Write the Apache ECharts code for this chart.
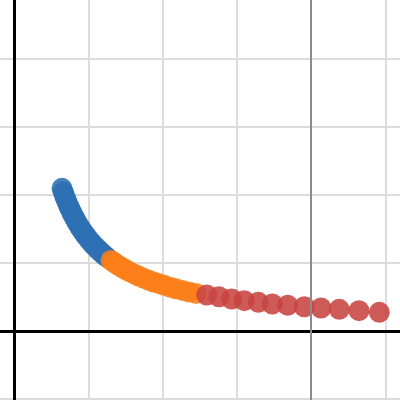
<!DOCTYPE html>
<html>
<head>
<meta charset="utf-8">
<script src="https://cdn.jsdelivr.net/npm/echarts@6/dist/echarts.min.js"></script>
<style>
  html, body { margin: 0; padding: 0; background: #fff; }
  #chart { width: 400px; height: 400px; }
</style>
</head>
<body>
<div id="chart"></div>
<script>
// point positions
var blueX = [0.646, 0.662, 0.680, 0.697, 0.716, 0.736, 0.756, 0.778, 0.801, 0.824, 0.848, 0.872, 0.898,
             0.924, 0.950, 0.977, 1.005, 1.034, 1.063, 1.093, 1.124, 1.155, 1.187, 1.219, 1.252];
var blueY = [2.098, 2.047, 1.993, 1.944, 1.892, 1.841, 1.792, 1.742, 1.692, 1.644, 1.598, 1.554, 1.509,
             1.466, 1.426, 1.387, 1.348, 1.310, 1.275, 1.240, 1.206, 1.173, 1.142, 1.112, 1.082];

var orangeX = [1.306, 1.346, 1.393, 1.440, 1.494, 1.548, 1.608, 1.669, 1.736,
               1.804, 1.871, 1.945, 2.019, 2.100, 2.180, 2.268, 2.355, 2.450];
var orangeY = [1.038, 1.007, 0.973, 0.941, 0.907, 0.875, 0.843, 0.812, 0.781,
               0.751, 0.724, 0.697, 0.671, 0.645, 0.622, 0.597, 0.575, 0.553];

var redX = [2.594, 2.759, 2.930, 3.100, 3.288, 3.476, 3.684, 3.907, 4.132, 4.378, 4.643, 4.917];
var redY = [0.529, 0.504, 0.471, 0.446, 0.422, 0.397, 0.378, 0.357, 0.338, 0.319, 0.299, 0.275];

// darker grid line
var majorX = [4];

function pairs(xs, ys) {
    var out = [];
    for (var i = 0; i < xs.length; i++) {
        out.push([xs[i], ys[i]]);
    }
    return out;
}

var myChart = echarts.init(document.getElementById('chart'));

var hiddenAxis = {
    type: 'value',
    interval: 1,
    axisLabel: { show: false },
    axisTick: { show: false },
    axisLine: { show: true, onZero: true, lineStyle: { color: '#000', width: 3 } },
    splitLine: { show: true, lineStyle: { color: '#dcdcdc', width: 2 } }
};

var option = {
    animation: false,
    backgroundColor: '#fff',
    // the grid reaches past the canvas so the axes cross where the picture has them
    grid: { left: -60.3, top: -9, width: 520.1, height: 476, outerBoundsMode: 'none', containLabel: false },
    xAxis: Object.assign({}, hiddenAxis, { min: -1, max: 6 }),
    yAxis: Object.assign({}, hiddenAxis, { min: -2, max: 5 }),
    series: [
        {
            type: 'scatter',
            symbolSize: 21,
            itemStyle: { color: '#2d70b3', opacity: 0.88 },
            data: pairs(blueX, blueY),
            markLine: {
                silent: true,
                symbol: 'none',
                label: { show: false },
                lineStyle: { color: '#8c8c8c', width: 2, type: 'solid' },
                data: majorX.map(function (v) { return { xAxis: v }; })
            },
            z: 2
        },
        {
            type: 'scatter',
            symbolSize: 21,
            itemStyle: { color: '#fa7e19', opacity: 0.88 },
            data: pairs(orangeX, orangeY),
            z: 3
        },
        {
            type: 'scatter',
            symbolSize: 21,
            itemStyle: { color: '#c74440', opacity: 0.88 },
            data: pairs(redX, redY),
            z: 4
        }
    ]
};

myChart.setOption(option);
</script>
</body>
</html>
